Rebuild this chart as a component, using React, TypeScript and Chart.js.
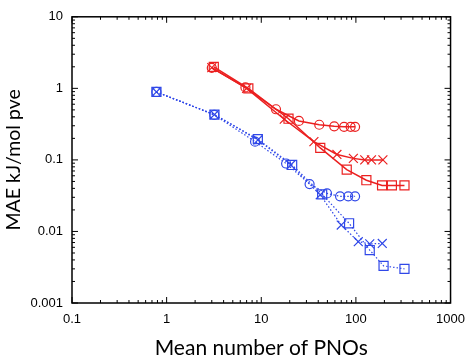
import React, { useEffect, useRef } from "react";
import { Chart, registerables } from "chart.js";
Chart.register(...registerables);

// Red (solid) series
const redCircleX = [3.0, 6.8, 14.3, 25, 41, 59, 75, 88, 98];
const redCircleY = [1.93, 1.03, 0.51, 0.35, 0.31, 0.295, 0.29, 0.29, 0.29];
const redCrossX = [3.0, 7.0, 17.5, 36, 63, 94, 124, 146, 193];
const redCrossY = [1.95, 1.0, 0.37, 0.18, 0.119, 0.105, 0.1, 0.1, 0.1];
const redSquareX = [3.15, 7.3, 19.4, 42, 80, 129, 189, 240, 326];
const redSquareY = [2.0, 1.0, 0.376, 0.147, 0.073, 0.052, 0.044, 0.044, 0.044];

// Blue (dotted) series
const blueCircleX = [0.78, 3.19, 8.6, 18.3, 32.4, 49.5, 68, 83, 98];
const blueCircleY = [0.89, 0.425, 0.18, 0.089, 0.046, 0.034, 0.031, 0.031, 0.031];
const blueCrossX = [0.78, 3.2, 9.2, 20.5, 42, 70, 106, 140, 190];
const blueCrossY = [0.89, 0.43, 0.19, 0.085, 0.0325, 0.0123, 0.0072, 0.0067, 0.0068];
const blueSquareX = [0.78, 3.2, 9.2, 21.2, 44, 84.7, 140, 196, 326];
const blueSquareY = [0.89, 0.43, 0.195, 0.085, 0.033, 0.013, 0.0055, 0.0033, 0.003];

const xTicks = [0.1, 1, 10, 100, 1000];
const yTicks = [0.001, 0.01, 0.1, 1, 10];
const xTickLabels = ["0.1", "1", "10", "100", "1000"];
const yTickLabels = ["0.001", "0.01", "0.1", "1", "10"];

const RED = "rgb(235,32,32)";
const BLUE = "rgb(48,72,232)";

const pts = (xs: number[], ys: number[]) => xs.map((x, i) => ({ x, y: ys[i] }));

const framePlugin = {
  id: "frame",
  afterDatasetsDraw(chart: any) {
    const { ctx, chartArea: a, scales } = chart;
    ctx.save();
    ctx.strokeStyle = "#000";
    ctx.lineWidth = 1.5;
    ctx.strokeRect(a.left, a.top, a.right - a.left, a.bottom - a.top);
    ctx.lineWidth = 1;
    const drawTicks = (scale: any, horizontal: boolean, lo: number, hi: number) => {
      for (let e = Math.round(Math.log10(lo)); e < Math.round(Math.log10(hi)) + 1; e++) {
        for (let m = 1; m <= 9; m++) {
          const v = m * Math.pow(10, e);
          if (v < lo * 0.999 || v > hi * 1.001) continue;
          const p = scale.getPixelForValue(v);
          const len = m === 1 ? 6 : 3;
          ctx.beginPath();
          if (horizontal) {
            ctx.moveTo(p, a.bottom); ctx.lineTo(p, a.bottom - len);
            ctx.moveTo(p, a.top); ctx.lineTo(p, a.top + len);
          } else {
            ctx.moveTo(a.left, p); ctx.lineTo(a.left + len, p);
            ctx.moveTo(a.right, p); ctx.lineTo(a.right - len, p);
          }
          ctx.stroke();
        }
      }
    };
    drawTicks(scales.x, true, 0.1, 1000);
    drawTicks(scales.y, false, 0.001, 10);
    ctx.restore();
  },
};

export default function App() {
  const ref = useRef<HTMLCanvasElement>(null);
  useEffect(() => {
    document.body.style.margin = "0";
    const solid = (label: string, data: any, style: string, r: number) => ({
      label, data, borderColor: RED, backgroundColor: "transparent",
      pointBorderColor: RED, pointBackgroundColor: "transparent",
      borderWidth: 1.5, pointBorderWidth: 1.2, pointStyle: style, pointRadius: r,
      showLine: true, tension: 0,
    });
    const dotted = (label: string, data: any, style: string, r: number) => ({
      label, data, borderColor: BLUE, backgroundColor: "transparent",
      pointBorderColor: BLUE, pointBackgroundColor: "transparent",
      borderWidth: 1.2, borderDash: [1.5, 2], pointBorderWidth: 1.2, pointStyle: style, pointRadius: r,
      showLine: true, tension: 0,
    });
    const chart = new Chart(ref.current!, {
      type: "scatter",
      data: {
        datasets: [
          solid("red circles", pts(redCircleX, redCircleY), "circle", 4.5),
          solid("red crosses", pts(redCrossX, redCrossY), "crossRot", 6.3),
          solid("red squares", pts(redSquareX, redSquareY), "rect", 6.4),
          dotted("blue circles", pts(blueCircleX, blueCircleY), "circle", 4.5),
          dotted("blue crosses", pts(blueCrossX, blueCrossY), "crossRot", 6.3),
          dotted("blue squares", pts(blueSquareX, blueSquareY), "rect", 6.4),
        ] as any,
      },
      options: {
        responsive: false,
        animation: false,
        layout: { padding: { top: 8, right: 19, left: 0, bottom: 0 } },
        plugins: { legend: { display: false }, tooltip: { enabled: false } },
        scales: {
          x: {
            type: "logarithmic",
            min: 0.1,
            max: 1000,
            grid: { display: false, drawTicks: false },
            border: { display: false },
            afterBuildTicks: (s: any) => { s.ticks = xTicks.map((v) => ({ value: v })); },
            afterFit: (s: any) => { s.height = 59; },
            ticks: {
              autoSkip: false,
              maxRotation: 0,
              padding: 9,
              color: "#000",
              font: { family: "Liberation Sans", size: 13 },
              callback: (v: any) => xTickLabels[xTicks.indexOf(Number(v))] ?? "",
            },
            title: {
              display: true,
              text: "Mean number of PNOs",
              color: "#000",
              font: { family: "Lato", size: 21 },
              padding: { top: 0, bottom: 1 },
            },
          },
          y: {
            type: "logarithmic",
            min: 0.001,
            max: 10,
            grid: { display: false, drawTicks: false },
            border: { display: false },
            afterBuildTicks: (s: any) => { s.ticks = yTicks.map((v) => ({ value: v })); },
            afterFit: (s: any) => { s.width = 72; },
            ticks: {
              autoSkip: false,
              padding: 9,
              color: "#000",
              font: { family: "Liberation Sans", size: 13 },
              callback: (v: any) => yTickLabels[yTicks.indexOf(Number(v))] ?? "",
            },
            title: {
              display: true,
              text: "MAE kJ/mol pve",
              color: "#000",
              font: { family: "Lato", size: 19.5 },
              padding: { top: 2, bottom: 0 },
            },
          },
        },
      },
      plugins: [framePlugin],
    });
    return () => chart.destroy();
  }, []);
  return (
    <div style={{ position: "fixed", left: 0, top: 0, width: 474, height: 362, background: "#fff" }}>
      <canvas ref={ref} width={474} height={362} />
    </div>
  );
}
